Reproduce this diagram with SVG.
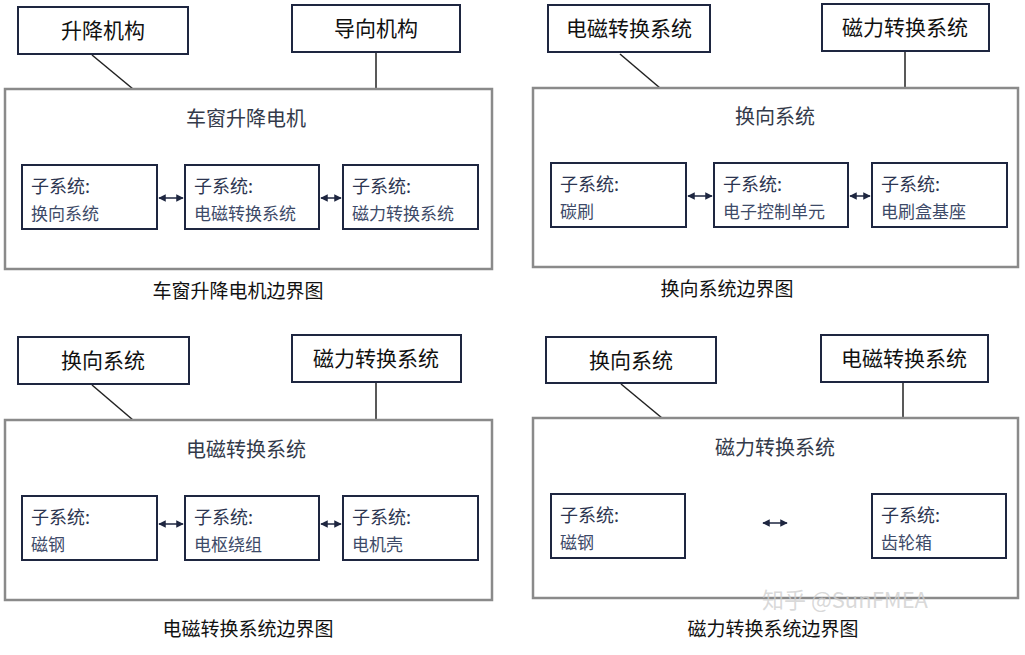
<svg xmlns="http://www.w3.org/2000/svg" width="1025" height="655" viewBox="0 0 1025 655">
<style>
text{font-family:"Noto Sans CJK SC","Liberation Sans",sans-serif}
.ext{fill:#fff;stroke:#1e2640;stroke-width:2}
.big{fill:#fff;stroke:#8a8a8a;stroke-width:2.5}
.sub{fill:#fff;stroke:#1e2640;stroke-width:2}
.et{font-size:21px;fill:#111;text-anchor:middle}
.tt{font-size:20px;fill:#333a4a;text-anchor:middle}
.st{font-size:18px;fill:#2c3550}
.sv{font-size:17px;fill:#3d4a68}
.cap{font-size:19px;fill:#111;text-anchor:middle}
.ln{stroke:#222;stroke-width:1.5;fill:none}
.ar{stroke:#1e2640;stroke-width:1.5;fill:none;marker-start:url(#a);marker-end:url(#a)}
</style>
<defs><marker id="a" viewBox="0 0 10 10" refX="9" refY="5" markerWidth="5" markerHeight="5" orient="auto-start-reverse"><path d="M0,0L10,5L0,10z" fill="#1e2640"/></marker></defs>
<g id="connectors">
<line class="ln" x1="92" y1="55" x2="133" y2="89"/><line class="ln" x1="376" y1="53" x2="376" y2="89"/>
<line class="ln" x1="620" y1="54" x2="660" y2="88"/><line class="ln" x1="905" y1="52" x2="905" y2="88"/>
<line class="ln" x1="92" y1="385" x2="133" y2="420"/><line class="ln" x1="376" y1="383" x2="376" y2="420"/>
<line class="ln" x1="621" y1="384" x2="662" y2="418"/><line class="ln" x1="903" y1="383" x2="903" y2="418"/>
</g>
<g id="q1">
<rect class="ext" x="18" y="7" width="170" height="47"/><text class="et" x="103" y="38">升降机构</text>
<rect class="ext" x="292" y="5" width="168" height="47"/><text class="et" x="376" y="36">导向机构</text>
<rect class="big" x="5" y="89" width="487" height="180"/><text class="tt" x="246" y="126">车窗升降电机</text>
<rect class="sub" x="22" y="165" width="135" height="64"/><text class="st" x="31" y="193">子系统:</text><text class="sv" x="31" y="220">换向系统</text>
<rect class="sub" x="185" y="165" width="134" height="64"/><text class="st" x="194" y="193">子系统:</text><text class="sv" x="194" y="220">电磁转换系统</text>
<rect class="sub" x="343" y="165" width="135" height="64"/><text class="st" x="352" y="193">子系统:</text><text class="sv" x="352" y="220">磁力转换系统</text>
<line class="ar" x1="159" y1="198" x2="183" y2="198"/><line class="ar" x1="321" y1="198" x2="341" y2="198"/>
<text class="cap" x="238" y="298">车窗升降电机边界图</text>
</g>
<g id="q2">
<rect class="ext" x="548" y="5" width="162" height="47"/><text class="et" x="629" y="36">电磁转换系统</text>
<rect class="ext" x="822" y="4" width="167" height="47"/><text class="et" x="905" y="35">磁力转换系统</text>
<rect class="big" x="533" y="88" width="485" height="179"/><text class="tt" x="775" y="124">换向系统</text>
<rect class="sub" x="551" y="163" width="135" height="64"/><text class="st" x="560" y="191">子系统:</text><text class="sv" x="560" y="218">碳刷</text>
<rect class="sub" x="714" y="163" width="134" height="64"/><text class="st" x="723" y="191">子系统:</text><text class="sv" x="723" y="218">电子控制单元</text>
<rect class="sub" x="872" y="163" width="135" height="64"/><text class="st" x="881" y="191">子系统:</text><text class="sv" x="881" y="218">电刷盒基座</text>
<line class="ar" x1="688" y1="196" x2="712" y2="196"/><line class="ar" x1="850" y1="196" x2="870" y2="196"/>
<text class="cap" x="727" y="296">换向系统边界图</text>
</g>
<g id="q3">
<rect class="ext" x="18" y="337" width="171" height="47"/><text class="et" x="103" y="368">换向系统</text>
<rect class="ext" x="292" y="335" width="169" height="47"/><text class="et" x="376" y="366">磁力转换系统</text>
<rect class="big" x="5" y="420" width="487" height="180"/><text class="tt" x="246" y="457">电磁转换系统</text>
<rect class="sub" x="22" y="496" width="135" height="64"/><text class="st" x="31" y="524">子系统:</text><text class="sv" x="31" y="551">磁钢</text>
<rect class="sub" x="185" y="496" width="134" height="64"/><text class="st" x="194" y="524">子系统:</text><text class="sv" x="194" y="551">电枢绕组</text>
<rect class="sub" x="343" y="496" width="135" height="64"/><text class="st" x="352" y="524">子系统:</text><text class="sv" x="352" y="551">电机壳</text>
<line class="ar" x1="159" y1="524" x2="183" y2="524"/><line class="ar" x1="321" y1="524" x2="341" y2="524"/>
<text class="cap" x="248" y="636">电磁转换系统边界图</text>
</g>
<g id="q4">
<rect class="ext" x="546" y="337" width="170" height="46"/><text class="et" x="631" y="368">换向系统</text>
<rect class="ext" x="821" y="335" width="167" height="47"/><text class="et" x="904" y="366">电磁转换系统</text>
<rect class="big" x="533" y="418" width="485" height="180"/><text class="tt" x="775" y="455">磁力转换系统</text>
<rect class="sub" x="551" y="494" width="134" height="64"/><text class="st" x="560" y="522">子系统:</text><text class="sv" x="560" y="549">磁钢</text>
<rect class="sub" x="872" y="494" width="134" height="64"/><text class="st" x="881" y="522">子系统:</text><text class="sv" x="881" y="549">齿轮箱</text>
<line class="ar" x1="763" y1="523" x2="787" y2="523"/>
<text class="cap" x="773" y="636">磁力转换系统边界图</text>
<text x="762" y="608" font-size="22" fill="#cfcfcf" fill-opacity="0.8">知乎 @SunFMEA</text>
</g>
</svg>
